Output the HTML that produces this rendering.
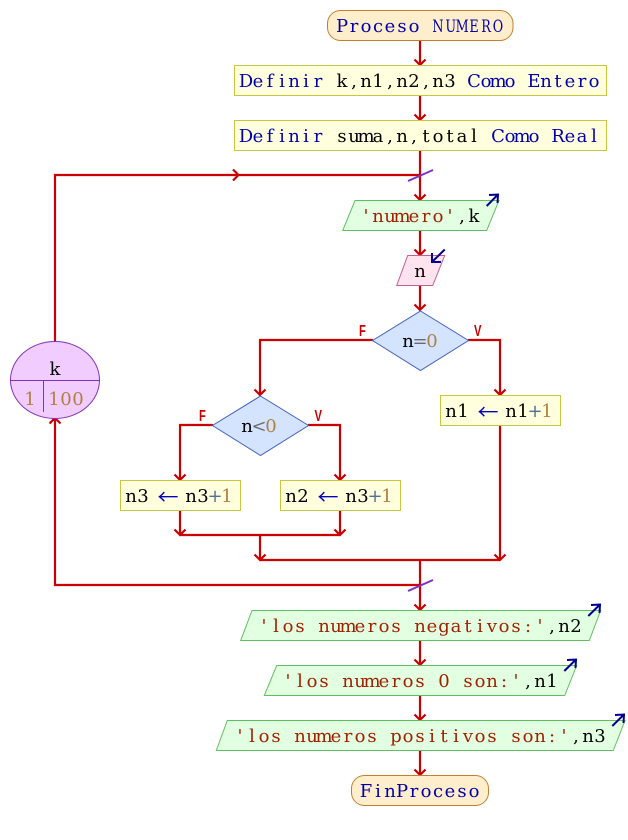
<!DOCTYPE html>
<html>
<head>
<meta charset="utf-8">
<style>
html,body{margin:0;padding:0;background:#fff;width:628px;height:840px;overflow:hidden}
svg{display:block}
text{fill:#000;white-space:pre}
.m{font-family:"DejaVu Serif",serif;font-size:18px}
.cap{font-family:"DejaVu Serif",serif;font-size:17px}
.kw{fill:#0000a8}
.st{fill:#a02000}
.nu{fill:#b08040}
.op{fill:#6a6a6a}
.pl{fill:#507090}
.ar{font-family:"Noto Sans CJK JP",sans-serif;font-size:21px;fill:#0000c0}
.lb{font-family:"Liberation Sans",sans-serif;font-weight:bold;font-size:14px;fill:#cc0000}
.l{fill:none;stroke:#cc0000;stroke-width:2.2}
.io{fill:#e2ffe2;stroke:#60c060;stroke-width:1}
.bx{fill:#ffffdd;stroke:#c8c840;stroke-width:1}
.te{fill:#ffeecc;stroke:#c08030;stroke-width:1}
.di{fill:#d4e4ff;stroke:#4060c0;stroke-width:1}
.bl{fill:none;stroke:#000090;stroke-width:2}
.pu{fill:none;stroke:#8030c0;stroke-width:2}
</style>
</head>
<body>
<svg width="628" height="840" viewBox="0 0 628 840" xmlns="http://www.w3.org/2000/svg">
<!-- connectors -->
<path class="l" d="M420 40V65M414.5 59.5L420 65L425.5 59.5"/>
<path class="l" d="M420 95V120M414.5 114.5L420 120L425.5 114.5"/>
<path class="l" d="M420 150V200M414.5 194.5L420 200L425.5 194.5"/>
<path class="l" d="M420 230V255M414.5 249.5L420 255L425.5 249.5"/>
<path class="l" d="M420 285V310M414.5 304.5L420 310L425.5 304.5"/>
<path class="l" d="M55 342V175H420M233 169.5L238.5 175L233 180.5"/>
<path class="l" d="M468 340H500V395M494.5 389.5L500 395L505.5 389.5"/>
<path class="l" d="M373 340H260V395M254.5 389.5L260 395L265.5 389.5"/>
<path class="l" d="M213 425H180V480M174.5 474.5L180 480L185.5 474.5"/>
<path class="l" d="M308 425H340V480M334.5 474.5L340 480L345.5 474.5"/>
<path class="l" d="M180 510V535M174.5 529.5L180 535L185.5 529.5"/>
<path class="l" d="M340 510V535M334.5 529.5L340 535L345.5 529.5"/>
<path class="l" d="M180 535H340M260 535V560M254.5 554.5L260 560L265.5 554.5"/>
<path class="l" d="M500 425V560M494.5 554.5L500 560L505.5 554.5"/>
<path class="l" d="M260 560H500"/>
<path class="l" d="M420 560V610M414.5 604.5L420 610L425.5 604.5"/>
<path class="l" d="M420 585H55V418M49.5 423.5L55 418L60.5 423.5"/>
<path class="l" d="M420 640V665M414.5 659.5L420 665L425.5 659.5"/>
<path class="l" d="M420 695V720M414.5 714.5L420 720L425.5 714.5"/>
<path class="l" d="M420 750V775M414.5 769.5L420 775L425.5 769.5"/>
<path class="pu" d="M408 181L433 170"/>
<path class="pu" d="M408 591L433 580"/>

<!-- start -->
<rect class="te" x="327.5" y="10.5" width="185.5" height="30" rx="13" ry="13"/>
<text class="m kw" x="336" y="32">Proceso</text>
<text class="cap kw" transform="translate(432,32) scale(.75,1)" x="0.55 17.8 31.55 49.8 65.65 81" y="0">NUMERO</text>

<rect class="bx" x="234.5" y="65.5" width="372" height="30"/>
<text class="m" x="240" y="87"><tspan class="kw">Definir</tspan> k,n1,n2,n3 <tspan class="kw">Como Entero</tspan></text>

<rect class="bx" x="234.5" y="120.5" width="372" height="30"/>
<text class="m" x="240" y="142"><tspan class="kw">Definir</tspan> suma,n,total <tspan class="kw">Como Real</tspan></text>

<!-- output numero -->
<polygon class="io" points="355,200.5 499,200.5 486.7,230.5 342.7,230.5"/>
<text class="m" x="360" y="222"><tspan class="st">'numero'</tspan>,k</text>
<path class="bl" d="M486.7 206L498 194.5M489 195L498 194.5L497.5 203"/>

<!-- input n -->
<polygon fill="#ffe4f0" stroke="#c06090" stroke-width="1" points="407.7,255.5 444.7,255.5 432.7,285.5 396.7,285.5"/>
<text class="m" x="414" y="277">n</text>
<path class="bl" d="M444.7 249.5L432 262M432 253L432 262L441 262"/>

<!-- decision n=0 -->
<polygon class="di" points="420.5,311 468.5,340.5 420.5,370.5 372.5,340.5"/>
<text class="m" x="402" y="347">n<tspan class="op">=</tspan><tspan class="nu">0</tspan></text>
<text class="lb" transform="translate(359,336) scale(.8,1.1)">F</text>
<text class="lb" transform="translate(474,336) scale(.8,1.1)">V</text>

<!-- n1 -->
<rect class="bx" x="440.5" y="395.5" width="120" height="30"/>
<text class="m" x="445" y="417">n1</text>
<text class="ar" x="477.5" y="419.5">←</text>
<text class="m" x="505" y="417">n1<tspan class="pl">+</tspan><tspan class="nu">1</tspan></text>

<!-- decision n<0 -->
<polygon class="di" points="260.5,396 308.5,425.5 260.5,455.5 212.5,425.5"/>
<text class="m" x="241" y="432">n<tspan class="op">&lt;</tspan><tspan class="nu">0</tspan></text>
<text class="lb" transform="translate(199,421) scale(.8,1.1)">F</text>
<text class="lb" transform="translate(314.5,421) scale(.8,1.1)">V</text>

<!-- n3 / n2 -->
<rect class="bx" x="120.5" y="480.5" width="120" height="30"/>
<text class="m" x="125" y="502">n3</text>
<text class="ar" x="157.5" y="504.5">←</text>
<text class="m" x="185" y="502">n3<tspan class="pl">+</tspan><tspan class="nu">1</tspan></text>

<rect class="bx" x="280.5" y="480.5" width="120" height="30"/>
<text class="m" x="285" y="502">n2</text>
<text class="ar" x="317.5" y="504.5">←</text>
<text class="m" x="345" y="502">n3<tspan class="pl">+</tspan><tspan class="nu">1</tspan></text>

<!-- for -->
<ellipse cx="55" cy="380" rx="44.5" ry="38.5" fill="#f0ccff" stroke="#8030c0" stroke-width="1"/>
<path fill="none" stroke="#8030c0" stroke-width="1" d="M10 380.5H100M43.5 381V412"/>
<text class="m" x="49" y="375">k</text>
<text class="m nu" x="24" y="405">1</text>
<text class="m nu" x="48" y="405">100</text>

<!-- outputs -->
<polygon class="io" points="252,610.5 600.7,610.5 589.3,640.5 240.7,640.5"/>
<text class="m" x="258" y="632"><tspan class="st">'los numeros negativos:'</tspan>,n2</text>
<path class="bl" d="M588.3 616L600 604.5M591 605L600 604.5L599.5 613"/>

<polygon class="io" points="276.7,665.5 576.7,665.5 564.7,695.5 264.3,695.5"/>
<text class="m" x="282" y="687"><tspan class="st">'los numeros 0 son:'</tspan>,n1</text>
<path class="bl" d="M564.3 671L576 659.5M567 660L576 659.5L575.5 668"/>

<polygon class="io" points="227.3,720.5 625,720.5 613.3,750.5 216.3,750.5"/>
<text class="m" x="234" y="742"><tspan class="st">'los numeros positivos son:'</tspan>,n3</text>
<path class="bl" d="M612.3 726L624 714.5M615 715L624 714.5L623.5 723"/>

<!-- end -->
<rect class="te" x="351.5" y="775.5" width="137" height="30" rx="13" ry="13"/>
<text class="m kw" x="360" y="797">FinProceso</text>
</svg>
<script>
/* place serif glyphs on a 12px monospace grid */
(function(){
  var c=document.createElement('canvas').getContext('2d');
  document.querySelectorAll('text.m').forEach(function(t){
    c.font=getComputedStyle(t).fontSize+' "DejaVu Serif"';
    var x0=parseFloat(t.getAttribute('x')),s=t.textContent,xs=[];
    for(var i=0;i<s.length;i++){
      var w=c.measureText(s[i]).width;
      xs.push((x0+12*i+(12-w)/2).toFixed(2));
    }
    t.setAttribute('x',xs.join(' '));
  });
})();
</script>
</body>
</html>
